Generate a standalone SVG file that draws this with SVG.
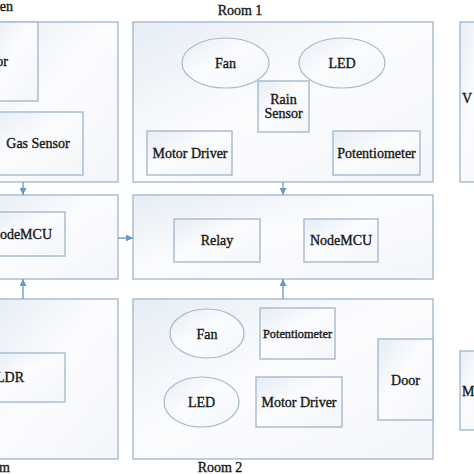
<svg xmlns="http://www.w3.org/2000/svg" width="474" height="474" viewBox="0 0 474 474">
<defs>
<linearGradient id="g" x1="0" y1="0" x2="1" y2="1">
<stop offset="0" stop-color="#e6edf5"/>
<stop offset="0.45" stop-color="#fbfcfe"/>
<stop offset="1" stop-color="#f3f6fa"/>
</linearGradient>
<marker id="ah" viewBox="0 0 10 10" refX="10" refY="5" markerWidth="7" markerHeight="7" markerUnits="userSpaceOnUse" orient="auto">
<path d="M0,0 L10,5 L0,10 z" fill="#6b97c2"/>
</marker>
<style>
.b{fill:url(#g);stroke:#a6bacc;stroke-width:1.4}
.e{fill:url(#g);stroke:#a6bacc;stroke-width:1.2}
.t{font-family:"Liberation Serif","Times New Roman",serif;font-size:14px;fill:#161616;text-anchor:middle;stroke:#161616;stroke-width:0.35}
.s{font-size:12.3px}
.c{stroke:#6b97c2;stroke-width:1.3;fill:none;marker-end:url(#ah)}
</style>
</defs>
<rect width="474" height="474" fill="#ffffff"/>

<g id="kitchen">
<rect class="b" x="-10" y="22" width="128" height="160"/>
<text class="t" x="13" y="11" style="text-anchor:end">en</text>
</g>
<g id="kitchen-sensor">
<rect class="b" x="-10" y="22" width="48" height="79"/>
<text class="t" x="8" y="66" style="text-anchor:end">or</text>
</g>
<g id="gas-sensor">
<rect class="b" x="-10" y="112" width="93" height="63"/>
<text class="t" x="38" y="148">Gas Sensor</text>
</g>

<g id="room1">
<rect class="b" x="133" y="22" width="300" height="160"/>
<text class="t" x="240" y="15">Room 1</text>
</g>
<g id="r1-fan">
<ellipse class="e" cx="225.5" cy="63" rx="43.5" ry="25"/>
<text class="t" x="225.5" y="68">Fan</text>
</g>
<g id="r1-led">
<ellipse class="e" cx="342" cy="63" rx="43" ry="25"/>
<text class="t" x="342" y="68">LED</text>
</g>
<g id="r1-rain">
<rect class="b" x="258" y="81" width="51" height="51"/>
<text class="t" x="283.5" y="104">Rain</text>
<text class="t" x="283.5" y="118">Sensor</text>
</g>
<g id="r1-motor">
<rect class="b" x="147" y="131" width="85" height="44"/>
<text class="t" x="190" y="158">Motor Driver</text>
</g>
<g id="r1-pot">
<rect class="b" x="333" y="131" width="87" height="44"/>
<text class="t" x="376.5" y="158">Potentiometer</text>
</g>

<g id="right-top">
<rect class="b" x="460" y="22" width="30" height="160"/>
<text class="t" x="462" y="103" style="text-anchor:start">V</text>
</g>

<g id="kitchen-node">
<rect class="b" x="-10" y="195" width="128" height="84"/>
</g>
<g id="kitchen-mcu">
<rect class="b" x="-10" y="212" width="75" height="44"/>
<text class="t" x="52" y="239" style="text-anchor:end">odeMCU</text>
</g>

<g id="center">
<rect class="b" x="133" y="195" width="300" height="84"/>
</g>
<g id="relay">
<rect class="b" x="174" y="219" width="86" height="43"/>
<text class="t" x="217" y="245">Relay</text>
</g>
<g id="nodemcu">
<rect class="b" x="304" y="219" width="74" height="43"/>
<text class="t" x="341" y="245">NodeMCU</text>
</g>

<g id="bottom-left">
<rect class="b" x="-10" y="299" width="128" height="160"/>
<text class="t" x="10" y="472" style="text-anchor:end">m</text>
</g>
<g id="ldr">
<rect class="b" x="-10" y="353" width="75" height="49"/>
<text class="t" x="24" y="382" style="text-anchor:end">LDR</text>
</g>

<g id="room2">
<rect class="b" x="133" y="299" width="300" height="160"/>
<text class="t" x="220" y="472">Room 2</text>
</g>
<g id="r2-fan">
<ellipse class="e" cx="207" cy="333.5" rx="37" ry="24.5"/>
<text class="t" x="207" y="339">Fan</text>
</g>
<g id="r2-led">
<ellipse class="e" cx="201.5" cy="402" rx="37.5" ry="25"/>
<text class="t" x="201.5" y="407">LED</text>
</g>
<g id="r2-pot">
<rect class="b" x="260" y="308" width="75" height="51"/>
<text class="t s" x="297.5" y="338">Potentiometer</text>
</g>
<g id="r2-motor">
<rect class="b" x="256" y="377" width="86" height="50"/>
<text class="t" x="299" y="407">Motor Driver</text>
</g>
<g id="r2-door">
<rect class="b" x="378" y="339" width="55" height="81"/>
<text class="t" x="405.5" y="385">Door</text>
</g>

<g id="right-bottom">
<rect class="b" x="460" y="351" width="30" height="79"/>
<text class="t" x="462" y="396" style="text-anchor:start">M</text>
</g>

<g id="connectors">
<line class="c" x1="23" y1="182" x2="23" y2="195"/>
<line class="c" x1="283" y1="182" x2="283" y2="195"/>
<line class="c" x1="118" y1="238" x2="133" y2="238"/>
<line class="c" x1="23" y1="299" x2="23" y2="279"/>
<line class="c" x1="283" y1="299" x2="283" y2="279"/>
</g>
</svg>
